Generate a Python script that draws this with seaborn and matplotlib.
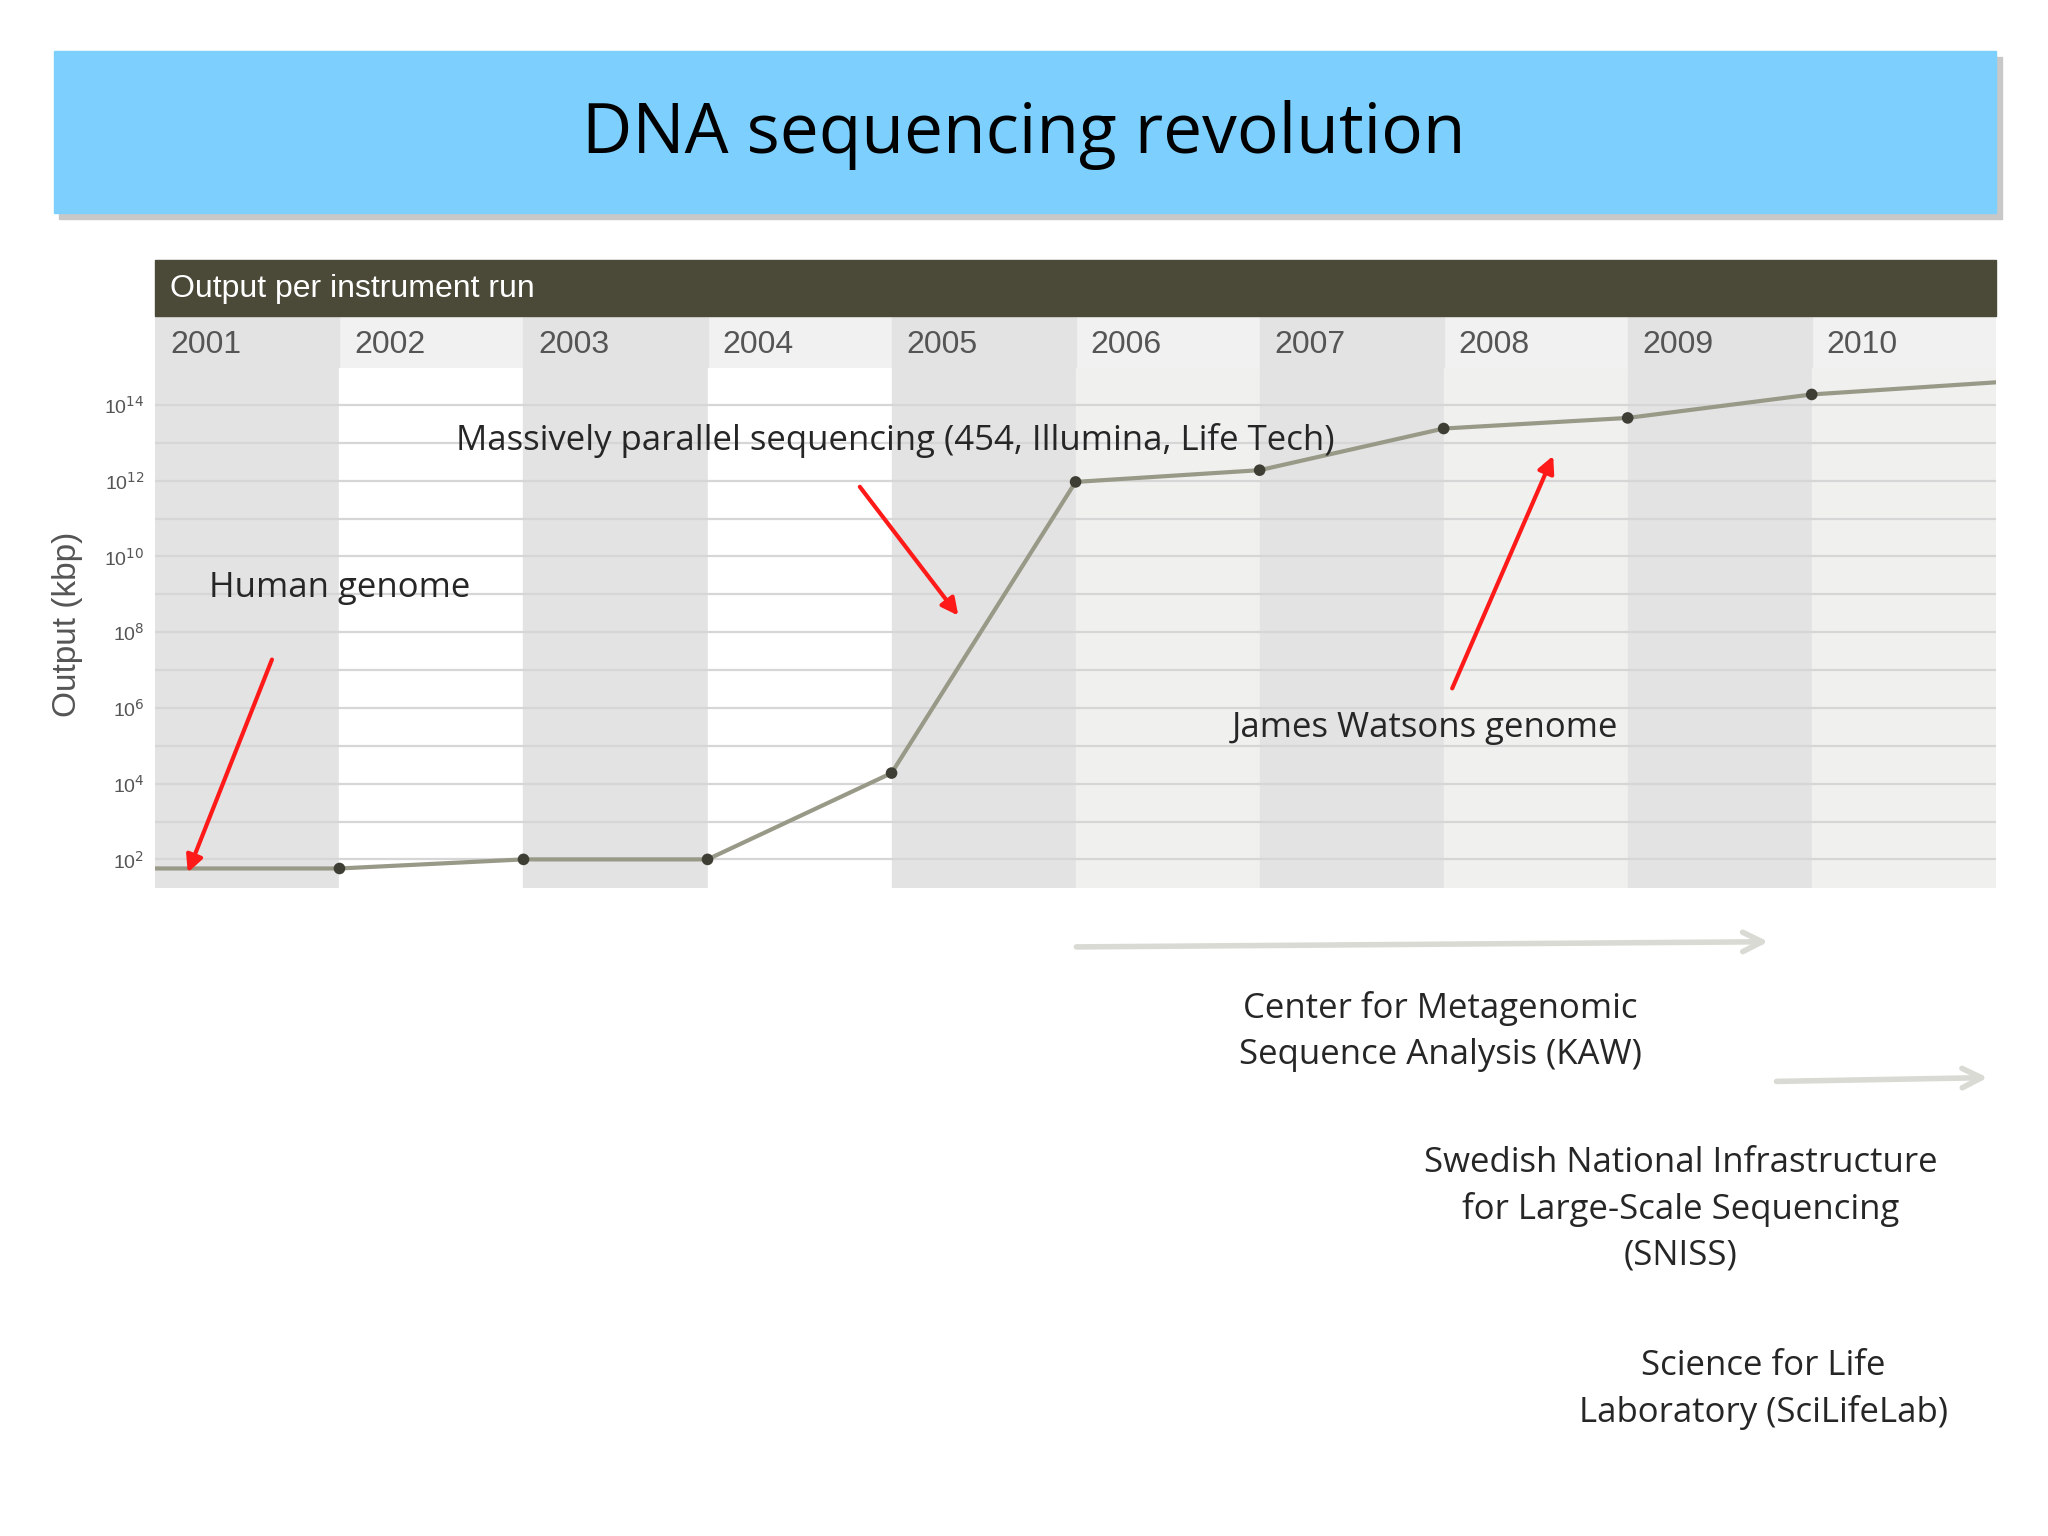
import matplotlib
matplotlib.use("Agg")
import matplotlib.pyplot as plt
import seaborn as sns
import pandas as pd
from matplotlib.patches import Rectangle, FancyArrowPatch

sns.set_style("white")
plt.rcParams['font.family'] = ['Open Sans', 'DejaVu Sans']

years = [2001, 2002, 2003, 2004, 2005, 2006, 2007, 2008, 2009, 2010, 2011]
log_output = [1.76, 1.76, 2.0, 2.0, 4.28, 11.97, 12.28, 13.38, 13.66, 14.28, 14.6]
year_labels = ["2001", "2002", "2003", "2004", "2005", "2006", "2007", "2008", "2009", "2010"]
tick_exps = [2, 4, 6, 8, 10, 12, 14]

W, H = 1568, 1176
def fx(x): return x / W
def fy(y): return 1 - y / H
SANS = ['Liberation Sans', 'DejaVu Sans']

fig = plt.figure(figsize=(20.48, 15.36), dpi=100)

# Title bar
fig.patches.append(Rectangle((fx(45), fy(168)), fx(1488), 124 / H, transform=fig.transFigure,
                             color="#c8c8c8", zorder=0))
fig.patches.append(Rectangle((fx(41), fy(163)), fx(1487), 124 / H, transform=fig.transFigure,
                             color="#7dd0fd", zorder=1))
fig.text(fx(784), fy(103), "DNA sequencing revolution", ha="center", va="center", fontsize=50, color="black")

# Dark header
fig.patches.append(Rectangle((fx(119), fy(242)), fx(1409), 43 / H, transform=fig.transFigure,
                             color="#4b4a38", zorder=1))
fig.text(fx(130), fy(221), "Output per instrument run", ha="left", va="center", fontsize=23, color="white",
         family=SANS)

# Year row
ax_y = fig.add_axes([fx(119), fy(282), fx(1409), 40 / H])
ax_y.set_xlim(2001, 2011); ax_y.set_ylim(0, 1)
ax_y.axvspan(2001, 2011, color="#f1f1f1")
for i, lab in enumerate(year_labels):
    if i % 2 == 0:
        ax_y.axvspan(years[i], years[i] + 1, color="#e4e3e3")
    ax_y.text(years[i] + 0.08, 0.45, lab, ha="left", va="center", fontsize=23, color="#555555", family=SANS)
ax_y.axis("off")

# Main plot
ax = fig.add_axes([fx(119), fy(680), fx(1409), 398 / H])
ax.set_xlim(2001, 2011)
ax.set_ylim(1.24, 14.97)
for i in range(10):
    if i % 2 == 0:
        c = "#e4e3e3"
    else:
        c = "#ffffff" if years[i] < 2005 else "#f0f0ef"
    ax.axvspan(years[i], years[i] + 1, color=c, zorder=0)
for e in range(2, 15):
    ax.axhline(e, color="#d6d6d6", lw=1.6, zorder=1)
df = pd.DataFrame({"year": years, "out": log_output})
sns.lineplot(data=df, x="year", y="out", ax=ax, color="#999988", lw=3, zorder=3)
sns.scatterplot(data=df.iloc[1:10], x="year", y="out", ax=ax, color="#3e3e34", s=70, zorder=4, edgecolor="none")
ax.set_yticks(tick_exps)
ax.set_yticklabels([f"10$^{{{e}}}$" for e in tick_exps], fontsize=14, color="#555555", family=SANS)
ax.set_xticks([])
ax.tick_params(axis="y", length=0, pad=8)
ax.set_xlabel(""); ax.set_ylabel("")
for s in ax.spines.values():
    s.set_visible(False)
fig.text(fx(52), fy(478), "Output (kbp)", rotation=90, ha="center", va="center", fontsize=24, color="#555555",
         family=SANS)

# Annotations
FS = 25
fig.text(fx(160), fy(450), "Human genome", ha="left", va="center", fontsize=FS)
fig.text(fx(349), fy(337), "Massively parallel sequencing (454, Illumina, Life Tech)", ha="left", va="center", fontsize=FS)
fig.text(fx(943), fy(557), "James Watsons genome", ha="left", va="center", fontsize=FS)

def arrow(x0, y0, x1, y1, color, lw, ms):
    fig.patches.append(FancyArrowPatch((fx(x0), fy(y0)), (fx(x1), fy(y1)), transform=fig.transFigure,
                                       arrowstyle="-|>", mutation_scale=ms, color=color, lw=lw, zorder=10))
arrow(209, 503, 143, 670, "#ff1a1a", 3, 25)
arrow(657, 371, 735, 473, "#ff1a1a", 3, 25)
arrow(1111, 529, 1190, 347, "#ff1a1a", 3, 25)
fig.patches.append(FancyArrowPatch((fx(822), fy(725)), (fx(1356), fy(721)), transform=fig.transFigure,
                                   arrowstyle="->", mutation_scale=35, color="#dadad4", lw=4, zorder=10))
fig.patches.append(FancyArrowPatch((fx(1358), fy(828)), (fx(1524), fy(825)), transform=fig.transFigure,
                                   arrowstyle="->", mutation_scale=35, color="#dadad4", lw=4, zorder=10))

LS = 1.45
fig.text(fx(1103), fy(790), "Center for Metagenomic\nSequence Analysis (KAW)", ha="center", va="center",
         fontsize=FS, linespacing=LS)
fig.text(fx(1287), fy(926), "Swedish National Infrastructure\nfor Large-Scale Sequencing\n(SNISS)", ha="center",
         va="center", fontsize=FS, linespacing=LS)
fig.text(fx(1350), fy(1064), "Science for Life\nLaboratory (SciLifeLab)", ha="center", va="center",
         fontsize=FS, linespacing=LS)

fig.savefig("out.png", dpi=100)
